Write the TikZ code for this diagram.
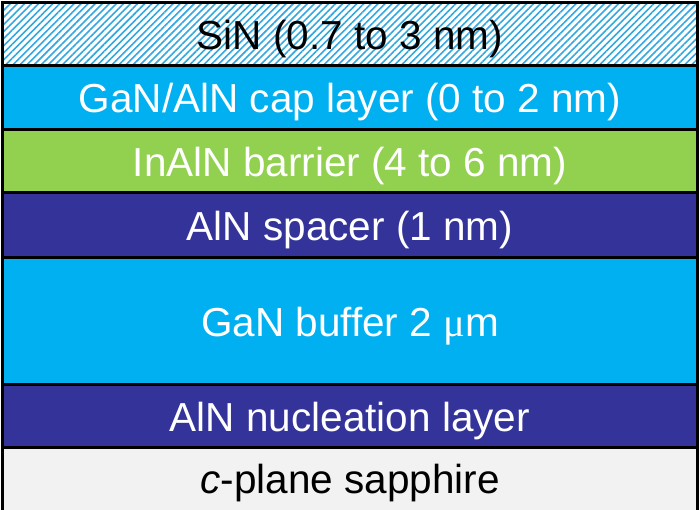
\documentclass[tikz,border=0pt]{standalone}
\usepackage{fontspec}
\setmainfont{Liberation Sans}
\newfontfamily\mufont{Liberation Serif}
\usetikzlibrary{patterns.meta}
\definecolor{sinblue}{RGB}{51,168,224}
\definecolor{capblue}{RGB}{0,176,240}
\definecolor{barrier}{RGB}{146,208,80}
\definecolor{aln}{RGB}{51,51,153}
\definecolor{sapph}{RGB}{242,242,242}

\begin{document}
\begin{tikzpicture}[x=1pt,y=-1pt,
    layer/.style={draw=black,line width=3pt},
    lbl/.style={font=\fontsize{40.5}{45}\selectfont,inner sep=0pt,anchor=base}]
    \useasboundingbox (0,0) rectangle (700,509);
    \draw[layer,preaction={fill=white},
      pattern={Lines[angle=45,distance=5pt,line width=1.6pt]},pattern color=sinblue]
      (2,2.5) rectangle (697.5,65);
    \node[lbl,text=black] (sin) at (350,49.5) {SiN (0.7 to 3 nm)};
    \foreach \top/\bot/\col in {65/129/capblue, 129/192/barrier, 192/257/aln,
      257/384/capblue, 384/447/aln, 447/512/sapph}{
      \draw[layer,fill=\col] (2,\top) rectangle (697.5,\bot);
    }
    \foreach \mid/\tcol/\name/\txt in {
      97/white/cap/{GaN/AlN cap layer (0 to 2 nm)},
      160.5/white/barrier/{InAlN barrier (4 to 6 nm)},
      224.5/white/spacer/{AlN spacer (1 nm)},
      320.5/white/buffer/{GaN buffer 2 {\mufont μ}m},
      415.5/white/nucleation/{AlN nucleation layer},
      478/black/substrate/{\textit{c}-plane sapphire}}{
      \node[lbl,text=\tcol] (\name) at (350,\mid+15.5) {\txt};
    }
  \end{tikzpicture}
\end{document}
